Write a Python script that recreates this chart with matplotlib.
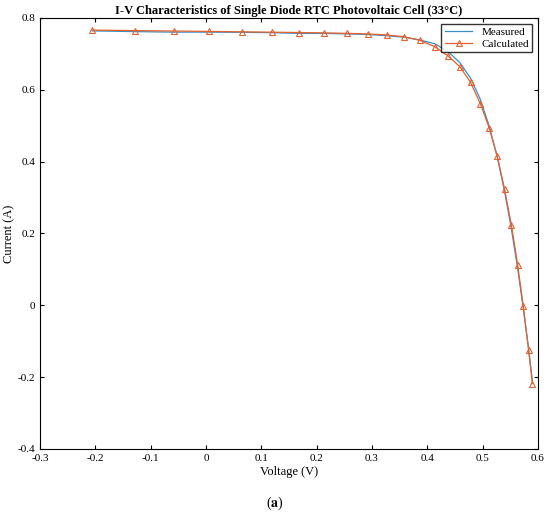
import numpy as np
import matplotlib.pyplot as plt

plt.rcParams['font.family'] = ['Liberation Serif', 'DejaVu Serif']
plt.rcParams['mathtext.fontset'] = 'stix'

voltage = [-0.2057, -0.1291, -0.0588, 0.0057, 0.0646, 0.1185, 0.1678, 0.2132, 0.2545,
           0.2924, 0.3269, 0.3585, 0.3873, 0.4137, 0.4373, 0.4590, 0.4784, 0.4960,
           0.5119, 0.5265, 0.5398, 0.5521, 0.5633, 0.5736, 0.5833, 0.5900]
measured = [0.7640, 0.7620, 0.7605, 0.7605, 0.7600, 0.7590, 0.7570, 0.7570, 0.7555,
            0.7540, 0.7505, 0.7465, 0.7385, 0.7280, 0.7065, 0.6755, 0.6320, 0.5730,
            0.4990, 0.4130, 0.3165, 0.2120, 0.1035, -0.0100, -0.1230, -0.2100]
calculated = [0.7662, 0.7648, 0.7636, 0.7625, 0.7614, 0.7604, 0.7594, 0.7584, 0.7572,
              0.7555, 0.7527, 0.7475, 0.7374, 0.7197, 0.6946, 0.6642, 0.6203, 0.5609,
              0.4939, 0.4146, 0.3227, 0.2234, 0.1132, -0.0024, -0.1252, -0.2184]

fig = plt.figure(figsize=(5.5, 5.13), dpi=100)
ax = fig.add_axes([0.073, 0.125, 0.905, 0.84])
ax.plot(voltage, measured, color='#3A8FC8', lw=0.9, label='Measured')
ax.plot(voltage, calculated, color='#E2622F', lw=0.9, marker='^', ms=5,
        markerfacecolor='none', markeredgewidth=0.8, label='Calculated')
ax.set_xlim(-0.3, 0.6)
ax.set_ylim(-0.4, 0.8)
ax.set_xticks(np.arange(-0.3, 0.61, 0.1))
ax.set_yticks(np.arange(-0.4, 0.81, 0.2))
ax.set_xticklabels(['-0.3', '-0.2', '-0.1', '0', '0.1', '0.2', '0.3', '0.4', '0.5', '0.6'])
ax.set_yticklabels(['-0.4', '-0.2', '0', '0.2', '0.4', '0.6', '0.8'])
ax.tick_params(labelsize=8, direction='in', top=True, right=True, length=3)
ax.set_xlabel('Voltage (V)', fontsize=9, labelpad=2)
ax.set_ylabel('Current (A)', fontsize=9, labelpad=2)
ax.set_title('I-V Characteristics of Single Diode RTC Photovoltaic Cell (33°C)',
             fontsize=9, fontweight='bold', pad=3)
ax.legend(loc='upper right', fontsize=8, fancybox=False, edgecolor='black',
          handlelength=2.5, borderpad=0.3, labelspacing=0.2)
fig.text(0.5, 0.012, r'($\mathbf{a}$)', ha='center', fontsize=10)
fig.savefig('out.png')
